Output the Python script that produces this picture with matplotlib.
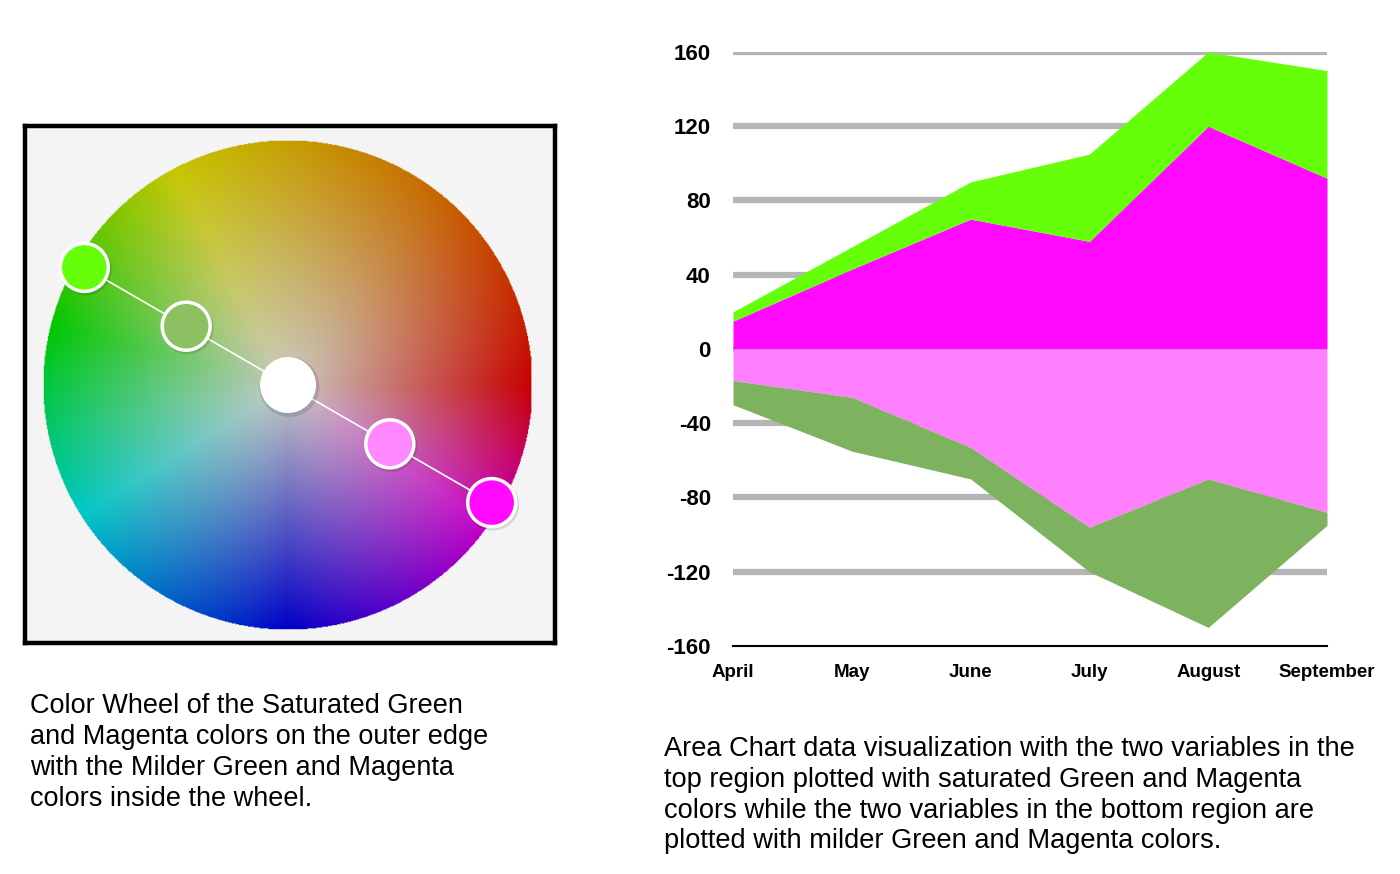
import numpy as np
import matplotlib.pyplot as plt
from matplotlib.colors import hsv_to_rgb
from matplotlib.patches import Circle

# ---- area chart data ----
months = ["April", "May", "June", "July", "August", "September"]
sat_magenta = [15, 43, 70, 58, 120, 92]
sat_green = [5, 12, 20, 47, 40, 58]
mild_magenta = [-17, -26, -53, -96, -70, -88]
mild_green = [-13, -29, -17, -24, -80, -7]
y_ticks = [160, 120, 80, 40, 0, -40, -80, -120, -160]

# ---- color wheel markers (angle in degrees, radius as fraction of wheel) ----
marker_angles = [150, 150, 0, 330, 330]
marker_radii = [0.96, 0.48, 0.0, 0.48, 0.96]
marker_colors = ["#66FF0A", "#8CC062", "#FFFFFF", "#FF88FF", "#FF0AFF"]

C_SAT_GREEN = "#66FF0A"
C_SAT_MAGENTA = "#FF0AFF"
C_MILD_MAGENTA = "#FF80FF"
C_MILD_GREEN = "#7DB25F"

W, H = 1400, 874
fig = plt.figure(figsize=(W / 100, H / 100), dpi=100)
fig.patch.set_facecolor("white")

REG = ["Liberation Sans", "DejaVu Sans"]


def px_axes(x0, y0, x1, y1):
    return fig.add_axes([x0 / W, 1 - y1 / H, (x1 - x0) / W, (y1 - y0) / H])


# ---------------- color wheel ----------------
axw = px_axes(25, 126, 555, 643)
axw.set_xlim(25, 555)
axw.set_ylim(643, 126)
axw.set_facecolor("#F4F4F4")
for s in axw.spines.values():
    s.set_linewidth(3.2)
    s.set_color("black")
axw.set_xticks([])
axw.set_yticks([])

cx, cy, R = 288, 385, 245
n = 600
xs = np.linspace(cx - R, cx + R, n)
ys = np.linspace(cy - R, cy + R, n)
X, Y = np.meshgrid(xs, ys)
dx, dy = X - cx, cy - Y
r = np.hypot(dx, dy) / R
ang = np.degrees(np.arctan2(dy, dx)) % 360
# angle on screen -> hue (the picker wheel is not evenly spaced)
hue = np.interp(ang, [0, 50, 118, 166, 212, 270, 325, 360],
                [0, 30, 60, 120, 180, 240, 300, 360]) / 360.0
edge = hsv_to_rgb(np.dstack([hue, np.ones_like(hue), np.full_like(hue, 0.78)]))
centre = np.array([0.79, 0.79, 0.76])
t = np.clip(r, 0, 1)[..., None]
rgb = centre * (1 - t) + edge * t
inside = (r <= 1) & (X <= 532) & (Y <= 630)
alpha = inside.astype(float)[..., None]
img = np.concatenate([rgb, alpha], axis=2)
axw.imshow(img, extent=(cx - R, cx + R, cy + R, cy - R), interpolation="bilinear", zorder=1)

mx = [cx + R * rr * np.cos(np.radians(a)) for a, rr in zip(marker_angles, marker_radii)]
my = [cy - R * rr * np.sin(np.radians(a)) for a, rr in zip(marker_angles, marker_radii)]
axw.plot(mx, my, color="white", lw=1.2, zorder=2)
for x, y, c, rr in zip(mx, my, marker_colors, marker_radii):
    rad = 28 if rr == 0 else 24
    axw.add_patch(Circle((x + 1.5, y + 2), rad + 2, color="black", alpha=0.12, zorder=3, lw=0))
    axw.add_patch(Circle((x, y), rad, facecolor=c, edgecolor="white",
                         lw=0 if rr == 0 else 2.5, zorder=4))

# ---------------- area chart ----------------
ax = px_axes(733, 52, 1327, 646)
xi = np.arange(len(months))
ax.set_xlim(0, len(months) - 1)
ax.set_ylim(-160, 160)

top1 = np.array(sat_magenta)
top2 = top1 + np.array(sat_green)
bot1 = np.array(mild_magenta)
bot2 = bot1 + np.array(mild_green)

for v in y_ticks[:-1]:
    ax.axhline(v, color="#B5B5B5", lw=4.5, zorder=0)
ax.fill_between(xi, 0, top1, color=C_SAT_MAGENTA, lw=0, zorder=2)
ax.fill_between(xi, top1, top2, color=C_SAT_GREEN, lw=0, zorder=2)
ax.fill_between(xi, 0, bot1, color=C_MILD_MAGENTA, lw=0, zorder=2)
ax.fill_between(xi, bot1, bot2, color=C_MILD_GREEN, lw=0, zorder=2)

for s in ["top", "right", "left"]:
    ax.spines[s].set_visible(False)
ax.spines["bottom"].set_position(("data", -160))
ax.spines["bottom"].set_linewidth(1.5)
ax.set_xticks(xi)
ax.set_xticklabels(months, family=REG, fontweight="bold", fontsize=13.5)
ax.set_yticks(y_ticks)
ax.set_yticklabels([str(v) for v in y_ticks], family=REG, fontweight="bold", fontsize=16)
ax.tick_params(axis="both", length=0)
ax.tick_params(axis="y", pad=16)
ax.tick_params(axis="x", pad=13)
ax.set_facecolor("none")

# ---------------- captions ----------------
fig.text(30 / W, 1 - 693 / H,
         "Color Wheel of the Saturated Green\nand Magenta colors on the outer edge\n"
         "with the Milder Green and Magenta\ncolors inside the wheel.",
         family=REG, fontsize=19.5, va="top", ha="left", linespacing=1.25)
fig.text(664 / W, 1 - 736 / H,
         "Area Chart data visualization with the two variables in the\n"
         "top region plotted with saturated Green and Magenta\n"
         "colors while the two variables in the bottom region are\n"
         "plotted with milder Green and Magenta colors.",
         family=REG, fontsize=19.6, va="top", ha="left", linespacing=1.24)

fig.savefig("out.png", dpi=100, facecolor="white")
